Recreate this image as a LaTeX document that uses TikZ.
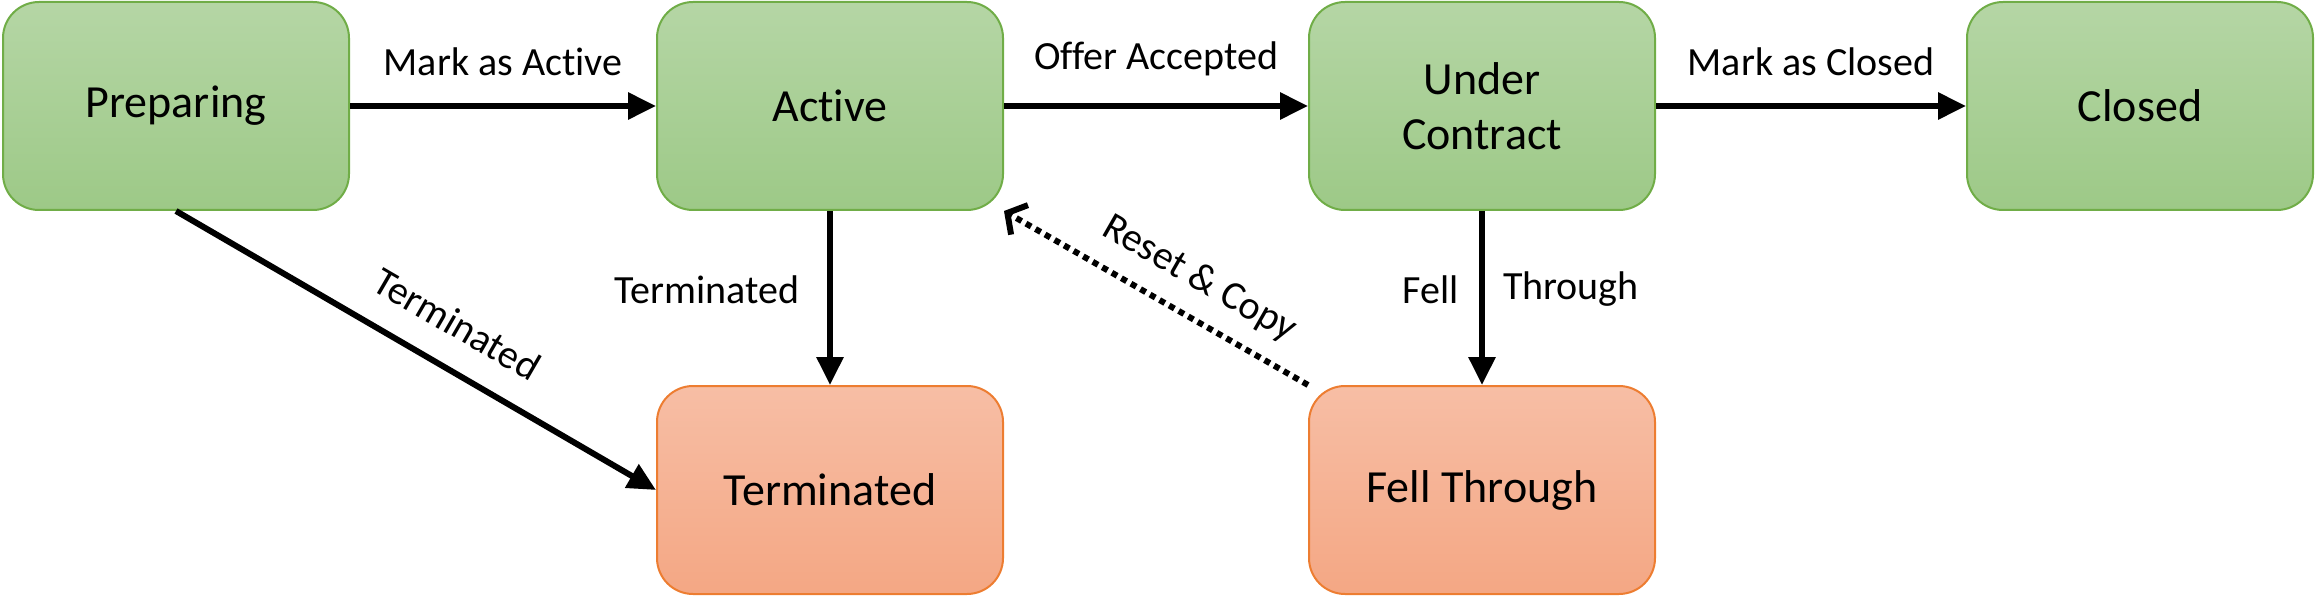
\documentclass[tikz,border=0pt]{standalone}
\usepackage{fontspec}
\setmainfont[Ligatures=NoCommon]{Carlito}
\usetikzlibrary{arrows.meta}
\definecolor{gtop}{HTML}{B5D6A5}
\definecolor{gbot}{HTML}{9DC987}
\definecolor{gline}{HTML}{70AD47}
\definecolor{otop}{HTML}{F7BEA5}
\definecolor{obot}{HTML}{F4A784}
\definecolor{oline}{HTML}{ED7D31}
\tikzset{
  statebox/.style={rectangle, rounded corners=36pt, minimum width=346pt, minimum height=208pt,
    line width=2pt, align=center, inner sep=0pt, text=black,
    font=\fontsize{46}{55}\selectfont},
  goodbox/.style={statebox, draw=gline, top color=gtop, bottom color=gbot},
  badbox/.style={statebox, draw=oline, top color=otop, bottom color=obot},
  conn/.style={line width=6pt, -{Triangle[length=28pt,width=26pt]}},
  dotconn/.style={line width=6pt, dash pattern=on 6pt off 5pt, -{Straight Barb[length=14pt,width=34pt]}},
  lbl/.style={font=\fontsize{40}{48}\selectfont, inner sep=0pt, text=black}
}
\begin{document}
\begin{tikzpicture}[x=1pt,y=-1pt]
\useasboundingbox (0,0) rectangle (2316,596);
\node[goodbox] (prep) at (176,106) {Preparing};
\node[goodbox] (active) at (830,106) {Act\kern0pt ive};
\node[goodbox] (under) at (1482,106) {Under\\Contract};
\node[goodbox] (closed) at (2140,106) {Closed};
\node[badbox] (term) at (830,490) {Terminated};
\node[badbox] (fell) at (1482,490) {Fell Through};

\draw[conn] (prep.east) -- node[lbl, midway, yshift=44pt] {Mark as Act\kern0pt ive} (active.west);
\draw[conn] (active.east) -- node[lbl, midway, yshift=47pt] {Offer Accepted} (under.west);
\draw[conn] (under.east) -- node[lbl, midway, yshift=44pt] {Mark as Closed} (closed.west);
\draw[conn] (active.south) -- node[lbl, pos=0.45, left=28pt] {Terminated} (term.north);
\draw[conn] (under.south) -- node[lbl, pos=0.45, left=20pt] {Fell} node[lbl, pos=0.45, right=18pt] {Through} (fell.north);
\draw[conn] (prep.south) -- node[lbl, pos=0.54, sloped, above=27pt] {Terminated} (term.west);
\draw[dotconn] (fell.north west) -- node[lbl, pos=0.42, sloped, above=18pt] {Reset \& Copy} (active.south east);
\end{tikzpicture}
\end{document}
